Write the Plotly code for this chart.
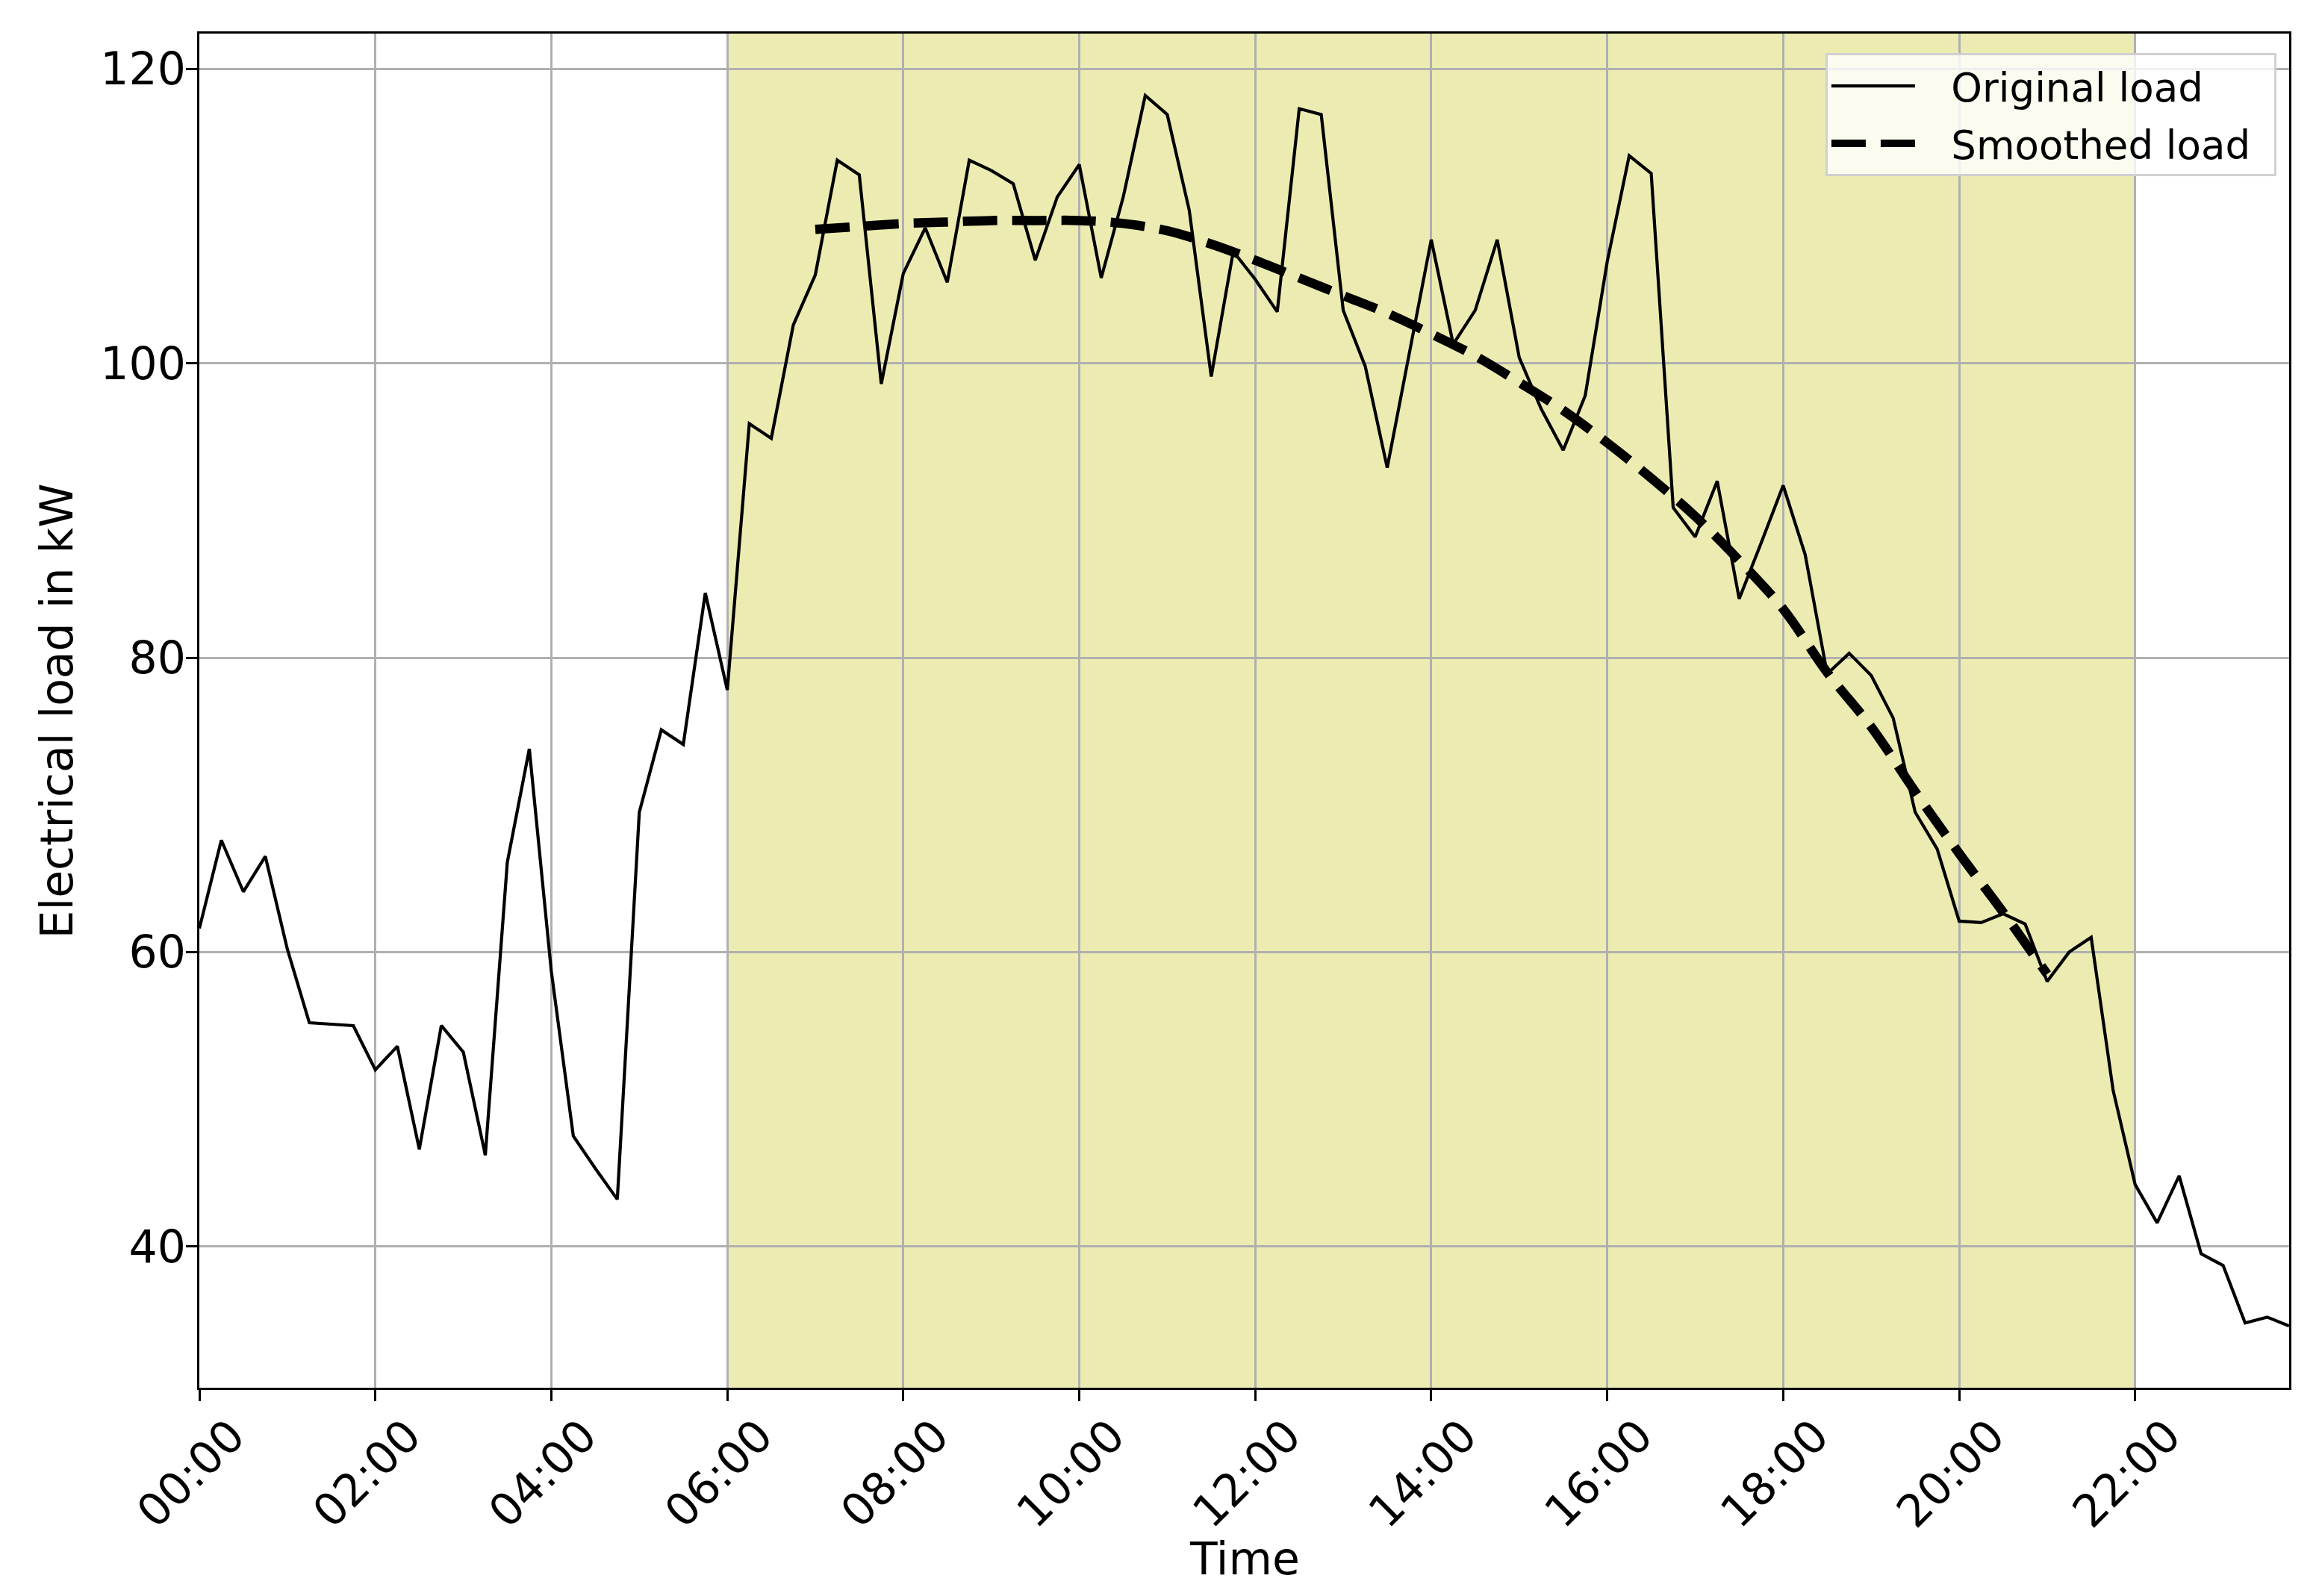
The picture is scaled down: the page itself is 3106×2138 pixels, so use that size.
import pandas as pd
import plotly.graph_objects as go

# ---- data ----
time_index = pd.date_range("2023-01-01 00:00", periods=96, freq="15min")
original_load = [
    61.6, 67.6, 64.1, 66.5, 60.2, 55.2, 55.1, 55.0, 52.0, 53.6, 46.6, 55.0,
    53.2, 46.2, 66.1, 73.8, 58.7, 47.5, 45.3, 43.2, 69.5, 75.1, 74.1, 84.4,
    77.8, 95.9, 94.9, 102.6, 106.0, 113.8, 112.8, 98.6, 106.1, 109.2, 105.5, 113.8,
    113.1, 112.2, 107.0, 111.3, 113.5, 105.8, 111.3, 118.2, 116.9, 110.4, 99.1, 107.6,
    105.7, 103.5, 117.3, 116.9, 103.6, 99.8, 92.9, 100.6, 108.4, 101.3, 103.6, 108.4,
    100.4, 96.9, 94.1, 97.8, 106.9, 114.1, 112.9, 90.2, 88.2, 92.0, 84.0, 87.8,
    91.7, 87.0, 78.9, 80.3, 78.8, 75.9, 69.5, 67.0, 62.1, 62.0, 62.6, 61.9,
    58.0, 60.0, 61.0, 50.6, 44.2, 41.6, 44.8, 39.5, 38.7, 34.8, 35.2, 34.6,
]
smooth_time = pd.date_range("2023-01-01 07:00", "2023-01-01 21:00", freq="30min")
smoothed_load = [
    109.1, 109.3, 109.5, 109.6, 109.7, 109.7, 109.7, 109.5, 109.0, 108.1,
    107.0, 105.8, 104.6, 103.4, 102.0, 100.5, 98.7, 96.8, 94.6, 92.2,
    89.6, 86.6, 83.3, 79.0, 75.3, 70.9, 66.7, 62.7, 58.5,
]
shade_start = "2023-01-01 06:00"
shade_end = "2023-01-01 22:00"
y_ticks = [40, 60, 80, 100, 120]
y_range = [30.4, 122.4]
x_range = ["2023-01-01 00:00", "2023-01-01 23:45"]
series_names = ["Original load", "Smoothed load"]

FONT = "DejaVu Sans"
FS = 60
PAD = "\u2002\u00a0"   # gap between legend sample and label
TAIL = "\u2002"        # right padding inside legend box

fig = go.Figure()
fig.add_vrect(x0=shade_start, x1=shade_end, fillcolor="rgba(191,191,0,0.3)",
              line_width=0, layer="below")
fig.add_trace(go.Scatter(x=time_index, y=original_load, mode="lines",
                         name=PAD + series_names[0] + TAIL, legendgroup="a",
                         line=dict(color="black", width=4.2)))
fig.add_trace(go.Scatter(x=smooth_time, y=smoothed_load, mode="lines",
                         name=PAD + series_names[1] + TAIL, legendgroup="b",
                         line_shape="spline",
                         line=dict(color="black", width=12.5, dash="46px,20px")))

axis_common = dict(
    showline=True, linecolor="black", linewidth=3.3, mirror=True,
    showgrid=True, gridcolor="#b0b0b0", gridwidth=3.3,
    ticks="outside", ticklen=15, tickwidth=3.3, tickcolor="black",
    tickfont=dict(family=FONT, size=FS, color="black"),
    zeroline=False, automargin=False,
)
fig.update_xaxes(
    **axis_common,
    range=x_range, type="date",
    dtick=2 * 3600 * 1000, tick0="2023-01-01 00:00", tickformat="%H:%M",
    tickangle=-45, ticklabelshift=43, ticklabelstandoff=-13,
)
fig.update_yaxes(
    **axis_common,
    range=y_range, tickvals=y_ticks, ticklabelstandoff=-12,
)
fig.add_annotation(text="Time", xref="paper", yref="paper", x=0.5, y=-0.1264,
                   xanchor="center", yanchor="middle", showarrow=False,
                   font=dict(family=FONT, size=FS, color="black"))
fig.add_annotation(text="Electrical load in kW", xref="paper", yref="paper",
                   x=-0.0681, y=0.5, textangle=-90,
                   xanchor="center", yanchor="middle", showarrow=False,
                   font=dict(family=FONT, size=FS, color="black"))
fig.update_layout(
    width=3106, height=2138,
    margin=dict(l=267, r=40, t=45, b=279, autoexpand=False),
    plot_bgcolor="white", paper_bgcolor="white",
    font=dict(family=FONT, size=FS, color="black"),
    showlegend=True,
    legend=dict(
        x=0.9939, y=0.9856, xanchor="right", yanchor="top",
        bgcolor="rgba(255,255,255,0.8)", bordercolor="#d0d0d0", borderwidth=3,
        font=dict(family=FONT, size=53, color="black"),
        itemwidth=112, tracegroupgap=5,
    ),
)
fig.write_html("out.html",
               config={"displayModeBar": False},
               post_script="document.body.style.margin='0';document.body.style.overflow='hidden';")
